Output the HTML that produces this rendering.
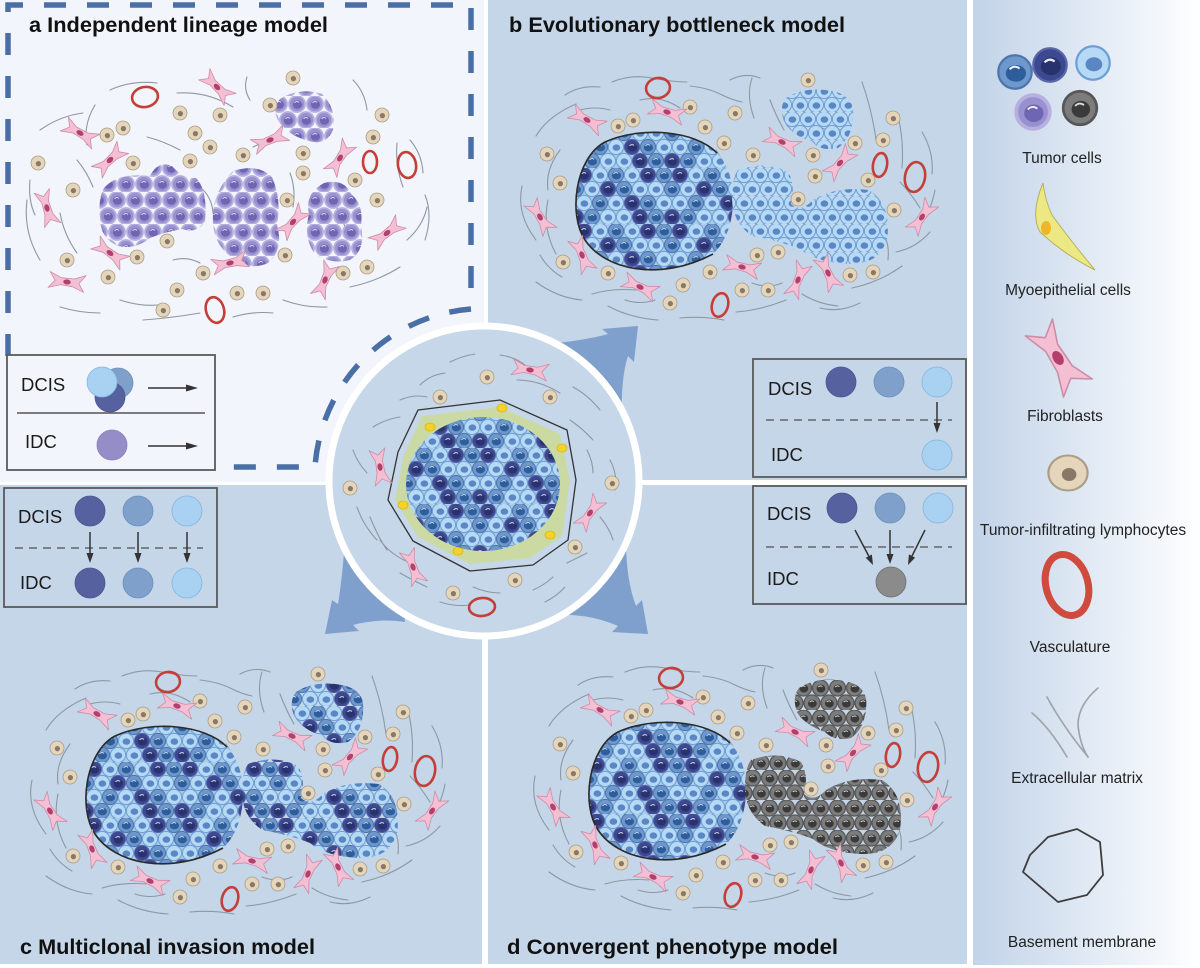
<!DOCTYPE html>
<html><head><meta charset="utf-8"><style>
html,body{margin:0;padding:0;background:#fff;}
svg{display:block;}
text{font-family:"Liberation Sans",Arial,sans-serif;}
</style></head><body>
<svg width="1200" height="968" viewBox="0 0 1200 968" xmlns="http://www.w3.org/2000/svg">
<defs>
<linearGradient id="lg" x1="973" y1="0" x2="1195" y2="0" gradientUnits="userSpaceOnUse"><stop offset="0" stop-color="#c2d3e8"/><stop offset="1" stop-color="#fdfeff"/></linearGradient>
<g id="lym"><circle r="7" fill="#e4d5bb" stroke="#ab9d86" stroke-width="0.8"/><circle cx="0.4" cy="0.6" r="2.6" fill="#877868"/></g>
<g id="fib"><path d="M-18,-8 L-6,-3.5 L7,-4 L18,-9 L12,0 L18,8 L6,4 L-6,3.5 L-18,8 L-12,0 Z" fill="#f5bfd3" stroke="#cd8ca8" stroke-width="0.8" stroke-linejoin="round"/><ellipse rx="3.8" ry="2.5" fill="#b2406d"/></g>
<g id="cD"><circle r="7.6" fill="#3c488f" stroke="#5a66a8" stroke-width="1"/><ellipse cx="0.4" cy="0.6" rx="4.6" ry="4" fill="#28326f"/><path d="M-2.5,-1.2 q2.2,-2.2 4.6,-0.4" stroke="#e8ecf8" stroke-width="1" fill="none"/></g>
<g id="cM"><circle r="7.6" fill="#6e98cc" stroke="#4c74ad" stroke-width="1"/><ellipse cx="0.4" cy="0.6" rx="4.6" ry="3.8" fill="#2e5d9b"/><path d="M-2.5,-1.2 q2.2,-2.2 4.6,-0.4" stroke="#e8f0fa" stroke-width="0.9" fill="none"/></g>
<g id="cL"><circle r="7.6" fill="#b6d9f5" stroke="#6c9fd5" stroke-width="1"/><ellipse cx="0.4" cy="0.6" rx="3.8" ry="3.2" fill="#5a86c4"/></g>
<g id="cP"><circle r="8" fill="#9891d0" stroke="#b6afe0" stroke-width="1.8"/><ellipse cx="0.4" cy="0.6" rx="4.6" ry="4.2" fill="#6f66b3"/><path d="M-2.5,-1.2 q2.2,-2.2 4.6,-0.4" stroke="#efeefa" stroke-width="0.9" fill="none"/></g>
<g id="cG"><circle r="8" fill="#7c7c7c" stroke="#575757" stroke-width="1.3"/><ellipse cx="0.4" cy="0.6" rx="4.4" ry="4" fill="#3a3a3a"/><path d="M-2.3,-1 q2,-2 4.2,-0.4" stroke="#ddd" stroke-width="0.9" fill="none"/></g>
<g id="mixCells">
<use href="#cD" x="8" y="7"/><use href="#cL" x="24" y="7"/><use href="#cM" x="40" y="7"/><use href="#cL" x="56" y="7"/><use href="#cD" x="72" y="7"/><use href="#cM" x="88" y="7"/>
<use href="#cM" x="0" y="21"/><use href="#cL" x="16" y="21"/><use href="#cD" x="32" y="21"/><use href="#cM" x="48" y="21"/><use href="#cL" x="64" y="21"/><use href="#cL" x="80" y="21"/><use href="#cM" x="96" y="21"/>
<use href="#cL" x="8" y="35"/><use href="#cM" x="24" y="35"/><use href="#cL" x="40" y="35"/><use href="#cD" x="56" y="35"/><use href="#cM" x="72" y="35"/><use href="#cL" x="88" y="35"/>
<use href="#cD" x="0" y="49"/><use href="#cM" x="16" y="49"/><use href="#cL" x="32" y="49"/><use href="#cL" x="48" y="49"/><use href="#cD" x="64" y="49"/><use href="#cM" x="80" y="49"/><use href="#cD" x="96" y="49"/>
</g>
<pattern id="pMix" patternUnits="userSpaceOnUse" width="96" height="56"><rect width="96" height="56" fill="#a9cbea"/><use href="#mixCells"/></pattern>
<pattern id="pMixN" patternUnits="userSpaceOnUse" width="96" height="56"><use href="#mixCells"/></pattern>
<pattern id="pL" patternUnits="userSpaceOnUse" width="32" height="28"><use href="#cL" x="8" y="7"/><use href="#cL" x="24" y="7"/><use href="#cL" x="0" y="21"/><use href="#cL" x="16" y="21"/><use href="#cL" x="32" y="21"/></pattern>
<pattern id="pP" patternUnits="userSpaceOnUse" width="36" height="32"><use href="#cP" x="9" y="8"/><use href="#cP" x="27" y="8"/><use href="#cP" x="0" y="24"/><use href="#cP" x="18" y="24"/><use href="#cP" x="36" y="24"/></pattern>
<pattern id="pG" patternUnits="userSpaceOnUse" width="34" height="30"><use href="#cG" x="8.5" y="8"/><use href="#cG" x="25.5" y="8"/><use href="#cG" x="0" y="23"/><use href="#cG" x="17" y="23"/><use href="#cG" x="34" y="23"/></pattern>

<g id="tisBack">
 <g fill="none" stroke="#8e98a3" stroke-width="1.1" stroke-linecap="round">
  <path d="M612,82 q20,-8 40,-4 t35,4"/><path d="M690,86 q18,2 30,8 t22,8"/><path d="M752,78 q-6,18 2,40"/>
  <path d="M536,136 q12,-20 40,-32"/><path d="M522,186 q-6,28 14,54"/><path d="M548,200 q-6,28 8,54"/>
  <path d="M536,282 q22,16 46,18"/><path d="M608,306 q22,12 50,14"/><path d="M680,318 q22,-2 44,2"/>
  <path d="M736,312 q25,-2 50,-12"/><path d="M802,294 q16,10 36,12"/><path d="M852,288 q28,-6 50,-22"/>
  <path d="M896,252 q20,-4 34,-20"/><path d="M900,182 q10,10 20,26"/><path d="M922,132 q12,20 10,42"/>
  <path d="M862,82 q10,28 14,58"/><path d="M898,116 q6,25 4,52"/><path d="M580,110 q15,-4 30,0"/>
  <path d="M716,150 q10,15 14,34"/><path d="M770,100 q6,16 14,30"/><path d="M592,294 q20,-6 44,-4"/>
  <path d="M752,283 q16,6 30,0"/><path d="M565,95 q15,-10 35,-8"/><path d="M640,100 q20,-5 40,8"/>
  <path d="M880,230 q10,10 8,30"/><path d="M540,255 q8,14 22,22"/><path d="M808,122 q20,12 40,6"/>
  <path d="M935,190 q-4,22 -18,40"/><path d="M560,150 q-15,20 -12,40"/><path d="M655,300 q-15,5 -30,0"/>
  <path d="M820,308 q20,5 40,-5"/><path d="M730,80 q15,-8 30,-2"/>
 </g>
 <path d="M717,153 C695,130 640,126 605,142 C575,158 568,215 585,240 C605,270 660,282 713,254 C738,232 740,175 717,153 Z" fill="url(#pMix)"/>
 <path d="M717,153 C695,130 640,126 605,142 C575,158 568,215 585,240 C605,270 660,282 713,254" fill="none" stroke="#2a2a2a" stroke-width="1.6"/>
</g>
<g id="tisFront">
 <g>
  <use href="#lym" x="547" y="154"/><use href="#lym" x="560" y="183"/><use href="#lym" x="563" y="262"/><use href="#lym" x="608" y="273"/>
  <use href="#lym" x="618" y="126"/><use href="#lym" x="633" y="120"/><use href="#lym" x="690" y="107"/><use href="#lym" x="705" y="127"/>
  <use href="#lym" x="724" y="143"/><use href="#lym" x="735" y="113"/><use href="#lym" x="753" y="155"/><use href="#lym" x="808" y="80"/>
  <use href="#lym" x="855" y="143"/><use href="#lym" x="813" y="155"/><use href="#lym" x="815" y="176"/><use href="#lym" x="798" y="199"/>
  <use href="#lym" x="868" y="180"/><use href="#lym" x="883" y="140"/><use href="#lym" x="893" y="118"/><use href="#lym" x="894" y="210"/>
  <use href="#lym" x="757" y="255"/><use href="#lym" x="778" y="252"/><use href="#lym" x="850" y="275"/><use href="#lym" x="873" y="272"/>
  <use href="#lym" x="710" y="272"/><use href="#lym" x="683" y="285"/><use href="#lym" x="742" y="290"/><use href="#lym" x="768" y="290"/>
  <use href="#lym" x="670" y="303"/>
 </g>
 <use href="#fib" transform="translate(587,120) rotate(30)"/><use href="#fib" transform="translate(667,112) rotate(18)"/>
 <use href="#fib" transform="translate(782,142) rotate(25)"/><use href="#fib" transform="translate(840,163) rotate(-48)"/>
 <use href="#fib" transform="translate(540,217) rotate(58)"/><use href="#fib" transform="translate(582,255) rotate(68)"/>
 <use href="#fib" transform="translate(640,287) rotate(25)"/><use href="#fib" transform="translate(742,267) rotate(15)"/>
 <use href="#fib" transform="translate(798,280) rotate(-68)"/><use href="#fib" transform="translate(828,273) rotate(65)"/>
 <use href="#fib" transform="translate(922,217) rotate(-55)"/>
 <g fill="none" stroke="#c43f37" stroke-width="2.6">
  <ellipse cx="658" cy="88" rx="12" ry="10" transform="rotate(-10 658 88)"/>
  <ellipse cx="880" cy="165" rx="7" ry="12" transform="rotate(10 880 165)"/>
  <ellipse cx="915" cy="177" rx="10" ry="15" transform="rotate(10 915 177)"/>
  <ellipse cx="720" cy="305" rx="8" ry="12" transform="rotate(15 720 305)"/>
 </g>
</g>
<path id="clTop" d="M786,98 Q805,86 832,91 Q856,96 853,118 Q852,138 838,148 Q822,152 812,142 Q794,136 785,124 Q778,108 786,98 Z"/>
<path id="clMain" d="M738,170 Q765,160 788,172 Q796,186 791,204 Q801,213 813,200 Q836,186 869,190 Q892,204 887,240 Q879,265 848,264 Q815,262 800,249 Q780,241 752,236 Q732,222 732,198 Q732,178 738,170 Z"/>
</defs>

<!-- panel backgrounds -->
<rect x="0" y="0" width="484" height="482" fill="#f2f5fb"/>
<rect x="488" y="0" width="479" height="480" fill="#c5d6e9"/>
<rect x="0" y="485" width="482" height="479" fill="#c5d6e9"/>
<rect x="488" y="485" width="479" height="479" fill="#c5d6e9"/>
<rect x="973" y="0" width="227" height="965" fill="url(#lg)"/>

<!-- panel a tissue -->
<g fill="none" stroke="#8e98a3" stroke-width="1.1" stroke-linecap="round">
 <path d="M110,90 q22,-10 47,-7"/><path d="M40,130 q20,-14 43,-17"/><path d="M27,200 q-4,32 13,60"/>
 <path d="M60,307 q20,6 40,6"/><path d="M143,320 q28,-2 57,-7"/><path d="M233,317 q20,-6 40,-4"/>
 <path d="M283,300 q22,8 44,7"/><path d="M350,287 q28,-6 50,-20"/><path d="M407,240 q16,-14 20,-33"/>
 <path d="M410,140 q12,14 13,33"/><path d="M353,80 q12,12 14,30"/><path d="M247,77 q-4,12 3,23"/>
 <path d="M177,93 q30,-2 56,14"/><path d="M147,137 q16,4 33,13"/><path d="M77,160 q10,12 16,27"/>
 <path d="M60,213 q4,22 17,40"/><path d="M200,187 q12,10 13,26"/><path d="M290,173 q6,16 3,34"/>
 <path d="M333,200 q10,20 17,40"/><path d="M253,147 q15,-8 30,-7"/><path d="M397,143 q-2,22 6,44"/>
 <path d="M173,260 q14,-4 27,3"/><path d="M425,195 q8,20 0,45"/><path d="M30,180 q-2,20 5,35"/>
 <path d="M120,300 q25,8 45,4"/><path d="M95,105 q-12,20 -8,40"/>
</g>
<g fill="url(#pP)">
 <path d="M104,188 Q118,172 150,176 Q158,160 172,166 Q182,178 196,178 Q208,190 205,222 Q196,234 182,229 Q165,232 150,238 Q135,250 118,246 Q100,238 100,218 Q98,198 104,188 Z"/>
 <path d="M233,171 Q258,163 272,177 Q282,200 277,225 Q284,250 268,263 Q250,271 234,259 Q214,246 213,222 Q211,194 233,171 Z"/>
 <path d="M324,183 Q344,178 351,194 Q364,204 361,226 Q366,250 350,260 Q330,265 314,253 Q303,236 309,214 Q304,194 324,183 Z"/>
 <path d="M280,99 Q300,87 322,94 Q337,109 333,130 Q326,146 309,141 Q289,136 279,122 Q271,109 280,99 Z"/>
</g>
<g>
 <use href="#lym" x="293" y="78"/><use href="#lym" x="270" y="105"/><use href="#lym" x="180" y="113"/><use href="#lym" x="220" y="115"/>
 <use href="#lym" x="123" y="128"/><use href="#lym" x="107" y="135"/><use href="#lym" x="195" y="133"/><use href="#lym" x="210" y="147"/>
 <use href="#lym" x="133" y="163"/><use href="#lym" x="190" y="161"/><use href="#lym" x="243" y="155"/><use href="#lym" x="303" y="153"/>
 <use href="#lym" x="303" y="173"/><use href="#lym" x="382" y="115"/><use href="#lym" x="373" y="137"/><use href="#lym" x="355" y="180"/>
 <use href="#lym" x="377" y="200"/><use href="#lym" x="287" y="200"/><use href="#lym" x="38" y="163"/><use href="#lym" x="73" y="190"/>
 <use href="#lym" x="67" y="260"/><use href="#lym" x="167" y="241"/><use href="#lym" x="137" y="257"/><use href="#lym" x="108" y="277"/>
 <use href="#lym" x="203" y="273"/><use href="#lym" x="177" y="290"/><use href="#lym" x="237" y="293"/><use href="#lym" x="263" y="293"/>
 <use href="#lym" x="285" y="255"/><use href="#lym" x="343" y="273"/><use href="#lym" x="367" y="267"/><use href="#lym" x="163" y="310"/>
</g>
<use href="#fib" transform="translate(217,87) rotate(45)"/><use href="#fib" transform="translate(80,133) rotate(30)"/>
<use href="#fib" transform="translate(110,160) rotate(-43)"/><use href="#fib" transform="translate(47,208) rotate(73)"/>
<use href="#fib" transform="translate(110,253) rotate(36)"/><use href="#fib" transform="translate(67,282) rotate(8)"/>
<use href="#fib" transform="translate(230,263) rotate(-13)"/><use href="#fib" transform="translate(270,140) rotate(-23)"/>
<use href="#fib" transform="translate(340,158) rotate(-57)"/><use href="#fib" transform="translate(293,222) rotate(-48)"/>
<use href="#fib" transform="translate(325,280) rotate(-67)"/><use href="#fib" transform="translate(387,233) rotate(-38)"/>
<g fill="none" stroke="#c43f37" stroke-width="2.6">
 <ellipse cx="145" cy="97" rx="13" ry="10" transform="rotate(-10 145 97)"/>
 <ellipse cx="370" cy="162" rx="7" ry="11"/>
 <ellipse cx="407" cy="165" rx="9" ry="13" transform="rotate(-10 407 165)"/>
 <ellipse cx="215" cy="310" rx="9" ry="13" transform="rotate(-15 215 310)"/>
</g>

<!-- panel b tissue -->
<use href="#tisBack"/>
<use href="#clTop" fill="url(#pL)"/><use href="#clMain" fill="url(#pL)"/>
<use href="#tisFront"/>

<!-- panel c tissue -->
<g transform="translate(-490,594)">
 <use href="#tisBack"/>
 <use href="#clTop" fill="url(#pMixN)"/><use href="#clMain" fill="url(#pMixN)"/>
 <use href="#tisFront"/>
</g>

<!-- panel d tissue -->
<g transform="translate(13,590)">
 <use href="#tisBack"/>
 <use href="#clTop" fill="url(#pG)"/><use href="#clMain" fill="url(#pG)"/>
 <use href="#tisFront"/>
</g>

<!-- arrows -->
<g fill="#7fa0cd">
 <path d="M540,345 Q588,340 608,334 L602,329 L638,326 L634,362 L628,356 Q620,380 622,430 L560,400 Z"/>
 <path d="M626,540 Q626,580 636,606 L642,600 L648,634 L612,632 L618,626 Q590,614 560,615 L560,560 Z"/>
 <path d="M345,540 Q342,580 338,604 L332,600 L325,634 L359,631 L353,625 Q380,618 405,622 L400,560 Z"/>
</g>

<!-- center circle -->
<circle cx="484" cy="481" r="155" fill="#c6d7ea" stroke="#ffffff" stroke-width="7"/>
<g fill="none" stroke="#8e98a3" stroke-width="1.1" stroke-linecap="round">
 <path d="M450,362 q12,-6 25,-8"/><path d="M500,355 q15,2 25,10"/><path d="M400,400 q14,-6 27,-3"/>
 <path d="M353,450 q4,12 14,23"/><path d="M357,507 q6,18 20,33"/><path d="M370,517 q8,20 17,33"/>
 <path d="M400,573 q14,8 27,14"/><path d="M473,587 q14,6 27,6"/><path d="M533,590 q10,-4 20,-13"/>
 <path d="M567,563 q10,-5 20,-10"/><path d="M600,517 q10,12 13,23"/><path d="M587,450 q6,12 6,23"/>
 <path d="M570,420 q12,8 23,20"/><path d="M517,380 q22,0 43,13"/><path d="M573,387 q15,8 27,23"/>
 <path d="M373,427 q13,-8 27,-10"/><path d="M380,540 q10,14 28,22"/><path d="M420,385 q10,-10 25,-12"/>
 <path d="M610,460 q8,15 5,30"/><path d="M440,602 q15,5 30,3"/><path d="M545,602 q12,-6 20,-15"/>
</g>
<path d="M422,416 L500,407 L560,434 L570,480 L562,536 L530,558 L470,564 L418,537 L395,500 L404,455 Z" fill="#cbd9a3"/>
<g fill="#f4d22a" stroke="#ddb514" stroke-width="0.8">
 <ellipse cx="430" cy="427" rx="5" ry="4"/><ellipse cx="502" cy="408" rx="5" ry="4"/><ellipse cx="562" cy="448" rx="5" ry="4"/>
 <ellipse cx="403" cy="505" rx="5" ry="4"/><ellipse cx="550" cy="535" rx="5" ry="4"/><ellipse cx="458" cy="551" rx="5" ry="4"/>
</g>
<ellipse cx="483" cy="484" rx="77" ry="67" fill="url(#pMix)"/>
<path d="M418,410 L500,400 L567,430 L576,480 L568,540 L533,565 L470,571 L413,541 L388,500 L398,452 Z" fill="none" stroke="#333" stroke-width="1.3" stroke-linejoin="round"/>
<g>
 <use href="#lym" x="487" y="377"/><use href="#lym" x="440" y="397"/><use href="#lym" x="550" y="397"/><use href="#lym" x="350" y="488"/>
 <use href="#lym" x="612" y="483"/><use href="#lym" x="575" y="547"/><use href="#lym" x="515" y="580"/><use href="#lym" x="453" y="593"/>
</g>
<use href="#fib" transform="translate(530,370) rotate(10)"/><use href="#fib" transform="translate(380,467) rotate(80)"/>
<use href="#fib" transform="translate(590,513) rotate(-55)"/><use href="#fib" transform="translate(413,567) rotate(70)"/>
<ellipse cx="482" cy="607" rx="13" ry="9" transform="rotate(-5 482 607)" fill="none" stroke="#c43f37" stroke-width="2.6"/>

<!-- dashed border panel a -->
<path d="M8,356 L8,5 L471,5 L471,309 A170,170 0 0 0 315,467 L218,467" fill="none" stroke="#4a6ea6" stroke-width="5.5" stroke-dasharray="22 21"/>

<!-- box a -->
<rect x="7" y="355" width="208" height="115" fill="#f2f5fb" stroke="#5a5a5a" stroke-width="1.8"/>
<text x="21" y="391" font-size="18.5" fill="#1a1a1a">DCIS</text>
<circle cx="118" cy="383" r="15" fill="#7fa0cb" stroke="#6d8fbd" stroke-width="0.8"/>
<circle cx="110" cy="397" r="15" fill="#56629f" stroke="#4a5590" stroke-width="0.8"/>
<circle cx="102" cy="382" r="15" fill="#a9d1f2" stroke="#86b4df" stroke-width="0.8"/>
<line x1="148" y1="388" x2="188" y2="388" stroke="#333" stroke-width="1.5"/><polygon points="186,384.5 198,388 186,391.5" fill="#333"/>
<line x1="17" y1="413" x2="205" y2="413" stroke="#555" stroke-width="1.5"/>
<text x="25" y="448" font-size="18.5" fill="#1a1a1a">IDC</text>
<circle cx="112" cy="445" r="15" fill="#958dc8" stroke="#867ebb" stroke-width="0.8"/>
<line x1="148" y1="446" x2="188" y2="446" stroke="#333" stroke-width="1.5"/><polygon points="186,442.5 198,446 186,449.5" fill="#333"/>

<!-- box c -->
<rect x="4" y="488" width="213" height="119" fill="#c5d6e9" stroke="#5a5a5a" stroke-width="1.8"/>
<text x="18" y="523" font-size="18.5" fill="#1a1a1a">DCIS</text>
<text x="20" y="589" font-size="18.5" fill="#1a1a1a">IDC</text>
<line x1="15" y1="548" x2="203" y2="548" stroke="#666" stroke-width="1.5" stroke-dasharray="8 6"/>
<circle cx="90" cy="511" r="15" fill="#56629f" stroke="#4a5590" stroke-width="0.8"/>
<circle cx="138" cy="511" r="15" fill="#7fa0cb" stroke="#6d8fbd" stroke-width="0.8"/>
<circle cx="187" cy="511" r="15" fill="#a9d1f2" stroke="#86b4df" stroke-width="0.8"/>
<circle cx="90" cy="583" r="15" fill="#56629f" stroke="#4a5590" stroke-width="0.8"/>
<circle cx="138" cy="583" r="15" fill="#7fa0cb" stroke="#6d8fbd" stroke-width="0.8"/>
<circle cx="187" cy="583" r="15" fill="#a9d1f2" stroke="#86b4df" stroke-width="0.8"/>
<g stroke="#333" stroke-width="1.5"><line x1="90" y1="532" x2="90" y2="555"/><line x1="138" y1="532" x2="138" y2="555"/><line x1="187" y1="532" x2="187" y2="555"/></g>
<g fill="#333"><polygon points="86.5,553 90,563 93.5,553"/><polygon points="134.5,553 138,563 141.5,553"/><polygon points="183.5,553 187,563 190.5,553"/></g>

<!-- box b -->
<rect x="753" y="359" width="213" height="118" fill="#c5d6e9" stroke="#5a5a5a" stroke-width="1.8"/>
<text x="768" y="395" font-size="18.5" fill="#1a1a1a">DCIS</text>
<text x="771" y="461" font-size="18.5" fill="#1a1a1a">IDC</text>
<line x1="766" y1="420" x2="952" y2="420" stroke="#666" stroke-width="1.5" stroke-dasharray="8 6"/>
<circle cx="841" cy="382" r="15" fill="#56629f" stroke="#4a5590" stroke-width="0.8"/>
<circle cx="889" cy="382" r="15" fill="#7fa0cb" stroke="#6d8fbd" stroke-width="0.8"/>
<circle cx="937" cy="382" r="15" fill="#a9d1f2" stroke="#86b4df" stroke-width="0.8"/>
<circle cx="937" cy="455" r="15" fill="#a9d1f2" stroke="#86b4df" stroke-width="0.8"/>
<line x1="937" y1="402" x2="937" y2="425" stroke="#333" stroke-width="1.5"/><polygon points="933.5,423 937,433 940.5,423" fill="#333"/>

<!-- box d -->
<rect x="753" y="486" width="213" height="118" fill="#c5d6e9" stroke="#5a5a5a" stroke-width="1.8"/>
<text x="767" y="520" font-size="18.5" fill="#1a1a1a">DCIS</text>
<text x="767" y="585" font-size="18.5" fill="#1a1a1a">IDC</text>
<line x1="766" y1="547" x2="952" y2="547" stroke="#666" stroke-width="1.5" stroke-dasharray="8 6"/>
<circle cx="842" cy="508" r="15" fill="#56629f" stroke="#4a5590" stroke-width="0.8"/>
<circle cx="890" cy="508" r="15" fill="#7fa0cb" stroke="#6d8fbd" stroke-width="0.8"/>
<circle cx="938" cy="508" r="15" fill="#a9d1f2" stroke="#86b4df" stroke-width="0.8"/>
<circle cx="891" cy="582" r="15" fill="#8b8b8b" stroke="#6f6f6f" stroke-width="0.8"/>
<g stroke="#333" stroke-width="1.5"><line x1="855" y1="530" x2="868.8" y2="556.1"/><line x1="890" y1="530" x2="890" y2="555"/><line x1="925" y1="530" x2="912" y2="556"/></g>
<g fill="#333"><polygon points="871.9,554.5 873,565 865.7,557.7"/><polygon points="886.5,554 890,564 893.5,554"/><polygon points="915.1,557.6 908,565 908.9,554.4"/></g>

<!-- titles -->
<g font-weight="bold" font-size="21.4" fill="#111" style="white-space:pre">
 <text x="29" y="32" textLength="299" lengthAdjust="spacingAndGlyphs">a  Independent lineage model</text>
 <text x="509" y="32" textLength="336" lengthAdjust="spacingAndGlyphs">b  Evolutionary bottleneck model</text>
 <text x="20" y="954" textLength="295" lengthAdjust="spacingAndGlyphs">c  Multiclonal invasion model</text>
 <text x="507" y="954" textLength="331" lengthAdjust="spacingAndGlyphs">d  Convergent  phenotype model</text>
</g>

<!-- legend -->
<use href="#cM" transform="translate(1015,72) scale(2.2)"/>
<use href="#cD" transform="translate(1050,65) scale(2.2)"/>
<use href="#cL" transform="translate(1093,63) scale(2.2)"/>
<use href="#cP" transform="translate(1033,112) scale(2.1)"/>
<use href="#cG" transform="translate(1080,108) scale(2.1)"/>
<path d="M1043,183 Q1030,215 1040,232 Q1065,255 1095,270 Q1070,240 1052,215 Q1045,200 1043,183 Z" fill="#ece985" stroke="#b4b25c" stroke-width="1"/>
<ellipse cx="1046" cy="228" rx="5" ry="7" fill="#f0b62a"/>
<use href="#fib" transform="translate(1058,358) rotate(58) scale(2)"/>
<use href="#lym" transform="translate(1068,473) scale(2.8,2.5)"/>
<ellipse cx="1067" cy="585" rx="21" ry="31" transform="rotate(-15 1067 585)" fill="none" stroke="#d04a3d" stroke-width="7"/>
<g fill="none" stroke="#9ea3a8" stroke-width="1.6" stroke-linecap="round">
 <path d="M1032,713 Q1050,728 1067,757"/><path d="M1047,697 Q1062,725 1088,757"/><path d="M1098,688 Q1078,705 1078,725 Q1080,745 1088,757"/>
</g>
<path d="M1077,829 L1100,842 L1103,875 L1087,895 L1058,902 L1023,872 L1030,855 L1048,837 Z" fill="none" stroke="#3d3d3d" stroke-width="1.8" stroke-linejoin="round"/>
<g font-size="15.5" fill="#222" text-anchor="middle">
 <text x="1062" y="163">Tumor cells</text>
 <text x="1068" y="295">Myoepithelial cells</text>
 <text x="1065" y="421">Fibroblasts</text>
 <text x="1083" y="535">Tumor-infiltrating lymphocytes</text>
 <text x="1070" y="652">Vasculature</text>
 <text x="1077" y="783">Extracellular matrix</text>
 <text x="1082" y="947">Basement membrane</text>
</g>
</svg>
</body></html>
